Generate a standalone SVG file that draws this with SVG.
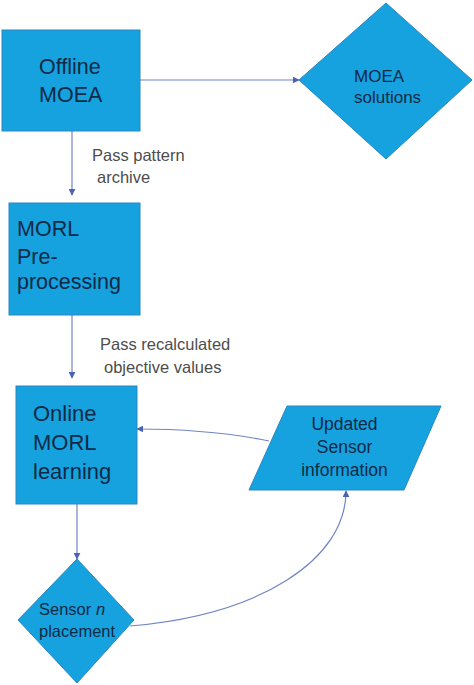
<svg xmlns="http://www.w3.org/2000/svg" width="474" height="685" viewBox="0 0 474 685">
<defs>
<style>
.shape{fill:#16A2DE;stroke:#2A86C2;stroke-width:1}
.nt{font-family:"Liberation Sans",Arial,sans-serif;fill:#0E2A47}
.lb{font-family:"Liberation Sans",Arial,sans-serif;fill:#4D4D4D;font-size:16.5px}
.conn{fill:none;stroke:#6F84C6;stroke-width:1.2}
</style>
<marker id="ah" viewBox="0 0 10 10" refX="9" refY="5" markerWidth="7" markerHeight="7" markerUnits="userSpaceOnUse" orient="auto">
<path d="M0,0 L10,5 L0,10 z" fill="#4A63B8"/>
</marker>
</defs>
<rect width="474" height="685" fill="#ffffff"/>
<g id="connectors">
<path class="conn" d="M140,80 L299,80" marker-end="url(#ah)"/>
<path class="conn" d="M72,131 L72,195" marker-end="url(#ah)"/>
<path class="conn" d="M72,315 L72,378" marker-end="url(#ah)"/>
<path class="conn" d="M77,504 L77,559" marker-end="url(#ah)"/>
<path class="conn" d="M269,441 C230,433 190,429 137,429" marker-end="url(#ah)"/>
<path class="conn" d="M130,626 C260,615 346,560 346,491" marker-end="url(#ah)"/>
</g>
<g id="offline-moea">
<rect class="shape" x="2" y="30" width="138" height="101"/>
<text class="nt" font-size="21.5"><tspan x="39" y="74">Offline</tspan><tspan x="39" y="102">MOEA</tspan></text>
</g>
<g id="moea-solutions">
<polygon class="shape" points="386,3 472,80 386,159 299,80"/>
<text class="nt" font-size="17"><tspan x="354" y="82">MOEA</tspan><tspan x="354" y="103">solutions</tspan></text>
</g>
<g id="label-pass-pattern">
<text class="lb"><tspan x="92" y="161">Pass pattern</tspan><tspan x="97" y="183">archive</tspan></text>
</g>
<g id="morl-preprocessing">
<rect class="shape" x="9" y="203" width="131" height="112"/>
<text class="nt" font-size="21.5"><tspan x="17" y="236">MORL</tspan><tspan x="17" y="264">Pre-</tspan><tspan x="17" y="289">processing</tspan></text>
</g>
<g id="label-pass-recalc">
<text class="lb"><tspan x="100" y="350">Pass recalculated</tspan><tspan x="104" y="373">objective values</tspan></text>
</g>
<g id="online-morl">
<rect class="shape" x="16" y="386" width="121" height="118"/>
<text class="nt" font-size="22"><tspan x="33" y="421">Online</tspan><tspan x="33" y="450">MORL</tspan><tspan x="33" y="479">learning</tspan></text>
</g>
<g id="updated-sensor">
<polygon class="shape" points="287,406 441,406 404,490 249,490"/>
<text class="nt" font-size="17.5" text-anchor="middle"><tspan x="344.5" y="430">Updated</tspan><tspan x="344.5" y="453">Sensor</tspan><tspan x="344.5" y="476">information</tspan></text>
</g>
<g id="sensor-placement">
<polygon class="shape" points="77,559 134,620 77,683 18,620"/>
<text class="nt" font-size="16.5"><tspan x="39" y="615">Sensor <tspan font-style="italic">n</tspan></tspan><tspan x="39" y="637">placement</tspan></text>
</g>
</svg>
